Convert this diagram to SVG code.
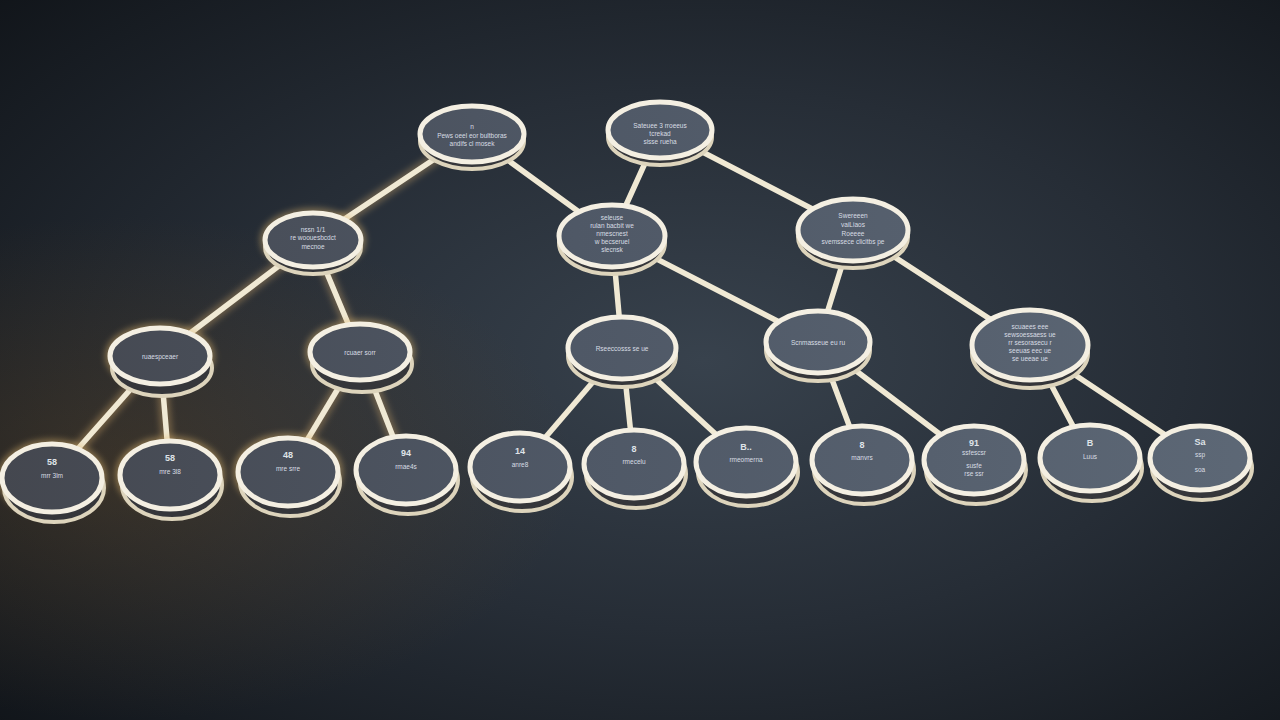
<svg xmlns="http://www.w3.org/2000/svg" width="1280" height="720" viewBox="0 0 1280 720">
<defs>
<radialGradient id="bg" cx="0.55" cy="0.5" r="0.75">
<stop offset="0" stop-color="#38424d"/>
<stop offset="0.5" stop-color="#262d36"/>
<stop offset="1" stop-color="#11151a"/>
</radialGradient>
<radialGradient id="warm" cx="0.1" cy="0.65" r="0.35">
<stop offset="0" stop-color="#6a4a20" stop-opacity="0.35"/>
<stop offset="1" stop-color="#6a4a20" stop-opacity="0"/>
</radialGradient>
<linearGradient id="face" gradientUnits="userSpaceOnUse" x1="0" y1="0" x2="1280" y2="0">
<stop offset="0" stop-color="#44474f"/>
<stop offset="0.45" stop-color="#4f5866"/>
<stop offset="1" stop-color="#5d6876"/>
</linearGradient>
<filter id="glow" x="-30%" y="-30%" width="160%" height="160%">
<feGaussianBlur stdDeviation="3"/>
</filter>
<style>
.edge{stroke:#f0e9d4;stroke-width:5.5;stroke-linecap:round;fill:none}
.edgeglow{stroke:#d9b070;stroke-width:12;stroke-linecap:round;fill:none;opacity:0.35}
.rim{fill:#35363a;stroke:#ddd4bc;stroke-width:4}
.face{fill:url(#face);stroke:#f4efe2;stroke-width:5}
.halo{fill:none;stroke:#e0b870;stroke-width:10;opacity:0.45}
.t{font-family:"Liberation Sans",Arial,sans-serif;fill:#d8dde4;text-anchor:middle;font-size:6.5px}
.tb{font-family:"Liberation Sans",Arial,sans-serif;fill:#dfe3e8;text-anchor:middle;font-size:9px;font-weight:bold}
</style>
</defs>
<rect width="1280" height="720" fill="url(#bg)"/>
<rect width="1280" height="720" fill="url(#warm)"/>
<g id="connectors">
<g filter="url(#glow)">
<path class="edgeglow" d="M472 134L313 240M313 240L160 356M313 240L360 352M160 356L52 478M160 356L170 475M360 352L288 472M360 352L406 470"/>
</g>
<path class="edge" d="M472 134L313 240"/>
<path class="edge" d="M472 134L612 236"/>
<path class="edge" d="M660 130L612 236"/>
<path class="edge" d="M660 130L853 230"/>
<path class="edge" d="M313 240L160 356"/>
<path class="edge" d="M313 240L360 352"/>
<path class="edge" d="M612 236L622 348"/>
<path class="edge" d="M612 236L818 342"/>
<path class="edge" d="M853 230L818 342"/>
<path class="edge" d="M853 230L1030 345"/>
<path class="edge" d="M160 356L52 478"/>
<path class="edge" d="M160 356L170 475"/>
<path class="edge" d="M360 352L288 472"/>
<path class="edge" d="M360 352L406 470"/>
<path class="edge" d="M622 348L520 467"/>
<path class="edge" d="M622 348L634 464"/>
<path class="edge" d="M622 348L746 462"/>
<path class="edge" d="M818 342L862 460"/>
<path class="edge" d="M818 342L974 460"/>
<path class="edge" d="M1030 345L1090 458"/>
<path class="edge" d="M1030 345L1200 458"/>
</g>
<g id="n-root1">
<ellipse class="rim" cx="472" cy="141" rx="52" ry="28"/>
<ellipse class="face" cx="472" cy="134" rx="52" ry="28"/>
<text class="t" x="472" y="129">n</text>
<text class="t" x="472" y="138">Pews oeel eor bultboras</text>
<text class="t" x="472" y="146">andifs cl mosek</text>
</g>
<g id="n-root2">
<ellipse class="rim" cx="660" cy="137" rx="52" ry="28"/>
<ellipse class="face" cx="660" cy="130" rx="52" ry="28"/>
<text class="t" x="660" y="128">Sateuee 3 rroeeus</text>
<text class="t" x="660" y="136">tcrekad</text>
<text class="t" x="660" y="144">sisse rueha</text>
</g>
<g id="n-a">
<ellipse class="halo" cx="313" cy="240" rx="48" ry="27" filter="url(#glow)"/>
<ellipse class="rim" cx="313" cy="247" rx="48" ry="27"/>
<ellipse class="face" cx="313" cy="240" rx="48" ry="27"/>
<text class="t" x="313" y="232">nssn 1/1</text>
<text class="t" x="313" y="240">re woouesbcdct</text>
<text class="t" x="313" y="249">mecnoe</text>
</g>
<g id="n-b">
<ellipse class="rim" cx="612" cy="243" rx="53" ry="31"/>
<ellipse class="face" cx="612" cy="236" rx="53" ry="31"/>
<text class="t" x="612" y="220">seleuse</text>
<text class="t" x="612" y="228">rulan bacbit we</text>
<text class="t" x="612" y="236">nmescnest</text>
<text class="t" x="612" y="244">w becseruel</text>
<text class="t" x="612" y="252">slecnsk</text>
</g>
<g id="n-c">
<ellipse class="rim" cx="853" cy="237" rx="55" ry="31"/>
<ellipse class="face" cx="853" cy="230" rx="55" ry="31"/>
<text class="t" x="853" y="218">Swereeen</text>
<text class="t" x="853" y="227">vaiLiaos</text>
<text class="t" x="853" y="236">Roeeee</text>
<text class="t" x="853" y="244">svemssece clicitbs pe</text>
</g>
<g id="n-d">
<ellipse class="halo" cx="160" cy="356" rx="50" ry="28" filter="url(#glow)"/>
<ellipse class="rim" cx="162" cy="368" rx="50" ry="28"/>
<ellipse class="face" cx="160" cy="356" rx="50" ry="28"/>
<text class="t" x="160" y="359">ruaespceaer</text>
</g>
<g id="n-e">
<ellipse class="halo" cx="360" cy="352" rx="50" ry="28" filter="url(#glow)"/>
<ellipse class="rim" cx="362" cy="364" rx="50" ry="28"/>
<ellipse class="face" cx="360" cy="352" rx="50" ry="28"/>
<text class="t" x="360" y="355">rcuaer sorr</text>
</g>
<g id="n-f">
<ellipse class="rim" cx="622" cy="356" rx="54" ry="31"/>
<ellipse class="face" cx="622" cy="348" rx="54" ry="31"/>
<text class="t" x="622" y="351">Rseeccosss se ue</text>
</g>
<g id="n-g">
<ellipse class="rim" cx="818" cy="350" rx="52" ry="31"/>
<ellipse class="face" cx="818" cy="342" rx="52" ry="31"/>
<text class="t" x="818" y="345">Scnmasseue eu ru</text>
</g>
<g id="n-h">
<ellipse class="rim" cx="1030" cy="353" rx="58" ry="35"/>
<ellipse class="face" cx="1030" cy="345" rx="58" ry="35"/>
<text class="t" x="1030" y="329">scuaees eee</text>
<text class="t" x="1030" y="337">sewsoessaess ue</text>
<text class="t" x="1030" y="345">rr sesorasecu r</text>
<text class="t" x="1030" y="353">seeuas eec ue</text>
<text class="t" x="1030" y="361">se ueeae ue</text>
</g>
<g id="n-l1">
<ellipse class="halo" cx="52" cy="478" rx="50" ry="34" filter="url(#glow)"/>
<ellipse class="rim" cx="54" cy="488" rx="50" ry="34"/>
<ellipse class="face" cx="52" cy="478" rx="50" ry="34"/>
<text class="tb" x="52" y="465">58</text>
<text class="t" x="52" y="478">mrr 3lm</text>
</g>
<g id="n-l2">
<ellipse class="halo" cx="170" cy="475" rx="50" ry="34" filter="url(#glow)"/>
<ellipse class="rim" cx="172" cy="485" rx="50" ry="34"/>
<ellipse class="face" cx="170" cy="475" rx="50" ry="34"/>
<text class="tb" x="170" y="461">58</text>
<text class="t" x="170" y="474">mre 3l8</text>
</g>
<g id="n-l3">
<ellipse class="halo" cx="288" cy="472" rx="50" ry="34" filter="url(#glow)"/>
<ellipse class="rim" cx="290" cy="482" rx="50" ry="34"/>
<ellipse class="face" cx="288" cy="472" rx="50" ry="34"/>
<text class="tb" x="288" y="458">48</text>
<text class="t" x="288" y="471">mre srre</text>
</g>
<g id="n-l4">
<ellipse class="rim" cx="408" cy="480" rx="50" ry="34"/>
<ellipse class="face" cx="406" cy="470" rx="50" ry="34"/>
<text class="tb" x="406" y="456">94</text>
<text class="t" x="406" y="469">rmae4s</text>
</g>
<g id="n-l5">
<ellipse class="rim" cx="522" cy="477" rx="50" ry="34"/>
<ellipse class="face" cx="520" cy="467" rx="50" ry="34"/>
<text class="tb" x="520" y="454">14</text>
<text class="t" x="520" y="467">anre8</text>
</g>
<g id="n-l6">
<ellipse class="rim" cx="636" cy="474" rx="50" ry="34"/>
<ellipse class="face" cx="634" cy="464" rx="50" ry="34"/>
<text class="tb" x="634" y="452">8</text>
<text class="t" x="634" y="464">rmecelu</text>
</g>
<g id="n-l7">
<ellipse class="rim" cx="748" cy="472" rx="50" ry="34"/>
<ellipse class="face" cx="746" cy="462" rx="50" ry="34"/>
<text class="tb" x="746" y="450">B..</text>
<text class="t" x="746" y="462">rmeomerna</text>
</g>
<g id="n-l8">
<ellipse class="rim" cx="864" cy="470" rx="50" ry="34"/>
<ellipse class="face" cx="862" cy="460" rx="50" ry="34"/>
<text class="tb" x="862" y="448">8</text>
<text class="t" x="862" y="460">manvrs</text>
</g>
<g id="n-l9">
<ellipse class="rim" cx="976" cy="470" rx="50" ry="34"/>
<ellipse class="face" cx="974" cy="460" rx="50" ry="34"/>
<text class="tb" x="974" y="446">91</text>
<text class="t" x="974" y="455">ssfescsr</text>
<text class="t" x="974" y="468">susfe</text>
<text class="t" x="974" y="476">rse ssr</text>
</g>
<g id="n-l10">
<ellipse class="rim" cx="1092" cy="468" rx="50" ry="33"/>
<ellipse class="face" cx="1090" cy="458" rx="50" ry="33"/>
<text class="tb" x="1090" y="446">B</text>
<text class="t" x="1090" y="459">Luus</text>
</g>
<g id="n-l11">
<ellipse class="rim" cx="1202" cy="468" rx="50" ry="32"/>
<ellipse class="face" cx="1200" cy="458" rx="50" ry="32"/>
<text class="tb" x="1200" y="445">Sa</text>
<text class="t" x="1200" y="457">ssp</text>
<text class="t" x="1200" y="472">soa</text>
</g>
</svg>
